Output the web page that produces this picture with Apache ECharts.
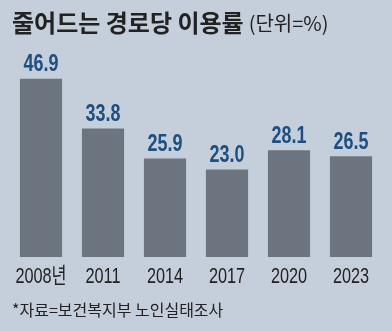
<!DOCTYPE html>
<html><head><meta charset="utf-8">
<script src="https://cdn.jsdelivr.net/npm/echarts@6/dist/echarts.min.js"></script>
<style>html,body{margin:0;padding:0;background:#c5cedb}#c{width:392px;height:331px}</style>
</head><body><div id="c"></div>
<script>
const categories = ['2008년', '2011', '2014', '2017', '2020', '2023'];
const values = [46.9, 33.8, 25.9, 23.0, 28.1, 26.5];
const titleMain = '줄어드는 경로당 이용률';
const titleUnit = '(단위=%)';
const source = '*자료=보건복지부 노인실태조사';

const chart = echarts.init(document.getElementById('c'));
chart.setOption({
  backgroundColor: '#c5cedb',
  animation: false,
  title: [{
    left: 12, top: 11, padding: 0,
    text: '{a|' + titleMain + '} {b|' + titleUnit + '}',
    textStyle: {
      rich: {
        a: {fontFamily: 'Noto Sans CJK KR', fontWeight: 'bold', fontSize: 24, color: '#222'},
        b: {fontFamily: 'Noto Sans CJK KR', fontWeight: 'normal', fontSize: 20, color: '#222'}
      }
    }
  }, {
    left: 12, top: 302, padding: 0,
    text: source,
    textStyle: {fontFamily: 'Noto Sans CJK KR', fontWeight: 'normal', fontSize: 16, color: '#222'}
  }],
  grid: {left: 10, right: 10, top: 67, bottom: 74},
  xAxis: {
    type: 'category', data: categories,
    axisLine: {show: false}, axisTick: {show: false},
    axisLabel: {show: false}
  },
  yAxis: {type: 'value', min: 0, max: 50, show: false, splitLine: {show: false}},
  series: [{
    type: 'bar', data: values, barCategoryGap: '32%',
    itemStyle: {color: '#6c7480'}
  }, {
    type: 'custom',
    data: values.map((v, i) => [i, v]),
    silent: true,
    renderItem: function (params, api) {
      const i = api.value(0), v = api.value(1);
      const top = api.coord([i, v]);
      const base = api.coord([i, 0]);
      return {
        type: 'group',
        children: [{
          type: 'text', x: top[0], y: top[1] - 14, scaleX: 0.78,
          style: {
            text: v.toFixed(1), align: 'center', verticalAlign: 'middle',
            font: 'bold 23px "Liberation Sans", Arial, sans-serif', fill: '#1d4f80'
          }
        }, {
          type: 'text', x: base[0], y: base[1] + 19.5, scaleX: 0.74,
          style: {
            text: categories[i], align: 'center', verticalAlign: 'middle',
            font: 'normal 22px "Liberation Sans", "Noto Sans CJK KR", sans-serif', fill: '#222'
          }
        }]
      };
    }
  }]
});
</script></body></html>
